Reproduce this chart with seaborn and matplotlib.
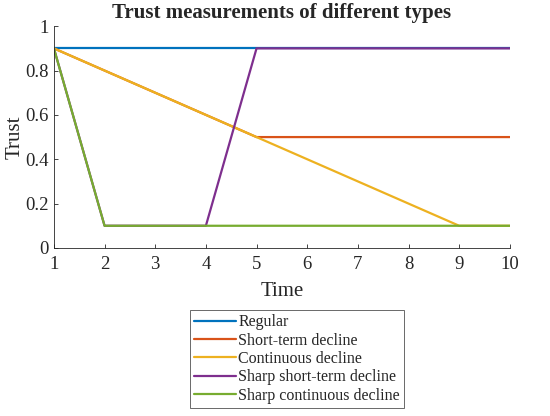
import matplotlib
matplotlib.use('Agg')
import matplotlib.pyplot as plt
import pandas as pd
import seaborn as sns

# Data
time = [1, 2, 3, 4, 5, 6, 7, 8, 9, 10]
regular = [0.9, 0.9, 0.9, 0.9, 0.9, 0.9, 0.9, 0.9, 0.9, 0.9]
short_term = [0.9, 0.8, 0.7, 0.6, 0.5, 0.5, 0.5, 0.5, 0.5, 0.5]
continuous = [0.9, 0.8, 0.7, 0.6, 0.5, 0.4, 0.3, 0.2, 0.1, 0.1]
sharp_short = [0.9, 0.1, 0.1, 0.1, 0.9, 0.9, 0.9, 0.9, 0.9, 0.9]
sharp_cont = [0.9, 0.1, 0.1, 0.1, 0.1, 0.1, 0.1, 0.1, 0.1, 0.1]
names = ['Regular', 'Short-term decline', 'Continuous decline',
         'Sharp short-term decline', 'Sharp continuous decline']
colors = ['#0072BD', '#D95319', '#EDB120', '#7E2F8E', '#77AC30']

series = [regular, short_term, continuous, sharp_short, sharp_cont]
df = pd.concat([pd.DataFrame({'Time': time, 'Trust': vals, 'type': name})
                for name, vals in zip(names, series)], ignore_index=True)

sns.set_style('ticks')
plt.rcParams['font.family'] = ['Liberation Serif', 'DejaVu Serif']
plt.rcParams['xtick.direction'] = 'in'
plt.rcParams['ytick.direction'] = 'in'

fig = plt.figure(figsize=(5.5, 4.16), dpi=100)
ax = fig.add_axes([0.098, 0.404, 0.829, 0.533])

sns.lineplot(data=df, x='Time', y='Trust', hue='type', hue_order=names,
             palette=colors, linewidth=1.6, ax=ax, legend=False)

ax.set_xlim(1, 10)
ax.set_ylim(0, 1)
ax.set_xticks(time)
ax.set_yticks([0, 0.2, 0.4, 0.6, 0.8, 1])
ax.set_yticklabels(['0', '0.2', '0.4', '0.6', '0.8', '1'])
ax.tick_params(labelsize=13.5, length=3, width=0.6, color='#262626', labelcolor='#262626')
ax.tick_params(axis='x', pad=6)
ax.set_xlabel('Time', fontsize=15, labelpad=6)
ax.set_ylabel('Trust', fontsize=15, labelpad=1)
ax.set_title('Trust measurements of different types', fontsize=15, fontweight='bold', pad=6)
for side in ['top', 'right']:
    ax.spines[side].set_visible(False)
for side in ['left', 'bottom']:
    ax.spines[side].set_linewidth(0.6)
    ax.spines[side].set_color('#262626')

handles = [plt.Line2D([], [], color=c, linewidth=1.6) for c in colors]
leg = fig.legend(handles, names, loc='center', bbox_to_anchor=(0.54, 0.137),
                 fontsize=11.5, frameon=True, fancybox=False, edgecolor='#262626',
                 handlelength=2.6, handletextpad=0.15, labelspacing=0.15,
                 borderpad=0.25, borderaxespad=0)
leg.get_frame().set_linewidth(0.6)

fig.savefig('out.png', dpi=100)
